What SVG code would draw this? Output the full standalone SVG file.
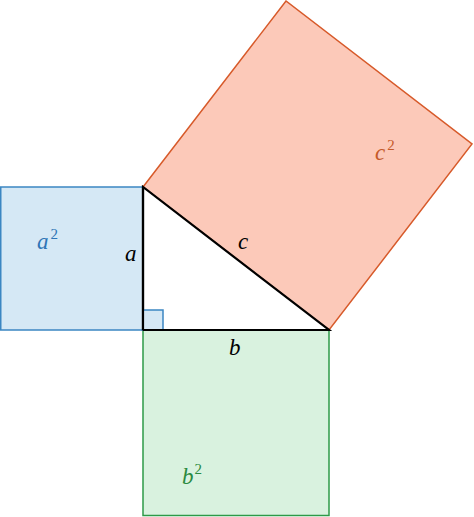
<svg xmlns="http://www.w3.org/2000/svg" width="474" height="517" viewBox="0 0 474 517">
<style>
.lbl{font-family:"Liberation Serif","DejaVu Serif",serif;font-style:italic;font-size:23px}
.sup{font-size:15px;font-style:normal}
.sqa{fill:#d5e8f5;stroke:#3b86c2;stroke-width:1.5}
.sqb{fill:#d9f2df;stroke:#2e9a48;stroke-width:1.5}
.sqc{fill:#fcc9b9;stroke:#d75a2a;stroke-width:1.5}
.tri{fill:#ffffff;stroke:#000;stroke-width:2.2;stroke-linejoin:miter}
</style>
<rect width="474" height="517" fill="#fff"/>
<g id="square-a">
<rect class="sqa" x="0.75" y="187" width="142.25" height="143"/>
<text class="lbl" x="37" y="249" fill="#2e75b6">a<tspan class="sup" dx="2" dy="-10">2</tspan></text>
</g>
<g id="square-b">
<rect class="sqb" x="143" y="330" width="186" height="185.5"/>
<text class="lbl" x="182" y="484" fill="#2a8a40">b<tspan class="sup" dx="1" dy="-10">2</tspan></text>
</g>
<g id="square-c">
<polygon class="sqc" points="143,187 286,1 472,144 329,330"/>
<text class="lbl" x="375" y="160" fill="#c55a2a">c<tspan class="sup" dx="2" dy="-10">2</tspan></text>
</g>
<g id="triangle">
<polygon class="tri" points="143,187 143,330 329,330"/>
<rect x="143" y="310" width="20" height="20" fill="#d5e8f5" stroke="#3b86c2" stroke-width="1.5"/>
<line x1="143" y1="187" x2="143" y2="330" stroke="#000" stroke-width="2.2"/>
<line x1="143" y1="330" x2="329" y2="330" stroke="#000" stroke-width="2.2"/>
<text class="lbl" x="125" y="261" fill="#000">a</text>
<text class="lbl" x="238" y="249" fill="#000">c</text>
<text class="lbl" x="229" y="355" fill="#000">b</text>
</g>
</svg>
